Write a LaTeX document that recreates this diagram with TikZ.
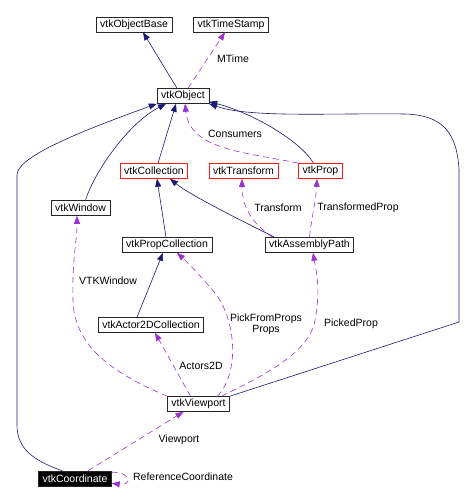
\documentclass[tikz,border=0pt]{standalone}
\usepackage{fontspec}
\setmainfont{Liberation Sans}
\usetikzlibrary{arrows.meta}
\definecolor{navyline}{RGB}{25,25,112}
\definecolor{orchidline}{RGB}{154,50,205}
\begin{document}
\begin{tikzpicture}[x=1pt,y=-1pt,
    font=\fontsize{10.5}{12}\selectfont,
    cls/.style={draw=black!85,fill=white,line width=0.6pt,inner xsep=4pt,inner ysep=0pt,minimum height=15pt},
    trunc/.style={cls,draw=red!90},
    inherit/.style={draw=navyline,line width=0.6pt,-{Triangle[length=8pt,width=6pt]}},
    uses/.style={draw=orchidline,line width=0.6pt,dash pattern=on 6pt off 4pt,-{Triangle[length=8pt,width=6pt]}},
    lbl/.style={inner sep=1pt}]
    \useasboundingbox (0,0) rectangle (474,500);
    % Classes
    \node[cls] (obase) at (134,24.5) {vtkObjectBase};
    \node[cls] (tstamp) at (231,24.5) {vtkTimeStamp};
    \node[cls] (object) at (183,96) {vtkObject};
    \node[trunc] (collection) at (154,171) {vtkCollection};
    \node[trunc] (transform) at (243.5,171) {vtkTransform};
    \node[trunc] (prop) at (320.5,171) {vtkProp};
    \node[cls] (window) at (80.5,208) {vtkWindow};
    \node[cls] (propcoll) at (167,245) {vtkPropCollection};
    \node[cls] (asmpath) at (309.5,245) {vtkAssemblyPath};
    \node[cls] (a2dcoll) at (151,325) {vtkActor2DCollection};
    \node[cls] (viewport) at (198.5,404) {vtkViewport};
    \node[cls,fill=black,text=white] (coord) at (75,478.5) {vtkCoordinate};
    % Labels
    \node[lbl] (mtime) at (233,59) {MTime};
    \node[lbl] (consumers) at (235,134) {Consumers};
    \node[lbl] (transformlbl) at (278,208) {Transform};
    \node[lbl] (transfprop) at (358,208) {TransformedProp};
    \node[lbl] (vtkwindow) at (108,281) {VTKWindow};
    \node[lbl,align=center] (pickfrom) at (266,324.5) {PickFromProps\\[-1.5pt]Props};
    \node[lbl] (pickedprop) at (351,324) {PickedProp};
    \node[lbl] (actors) at (201,366) {Actors2D};
    \node[lbl] (viewportlbl) at (179,440) {Viewport};
    \node[lbl] (refcoord) at (183,477) {ReferenceCoordinate};
    % Inheritance
    \draw[inherit] ([xshift=-6pt]object.north) -- ([xshift=9pt]obase.south);
    \draw[inherit] ([xshift=5pt]window.north) .. controls (95,170) and (130,122) .. ([xshift=-17pt]object.south);
    \draw[inherit] ([xshift=-13pt]coord.north) .. controls (32,460) and (17,448) .. (17,425) -- (17,175)
        .. controls (17,158) and (70,135) .. (object.south west);
    \draw[inherit] ([xshift=4pt]collection.north) -- ([xshift=-7pt]object.south);
    \draw[inherit] ([xshift=-7pt]prop.north) .. controls (300,140) and (250,112) .. ([yshift=2pt]object.south east);
    \draw[inherit] (viewport.north east) -- (459,322) -- (459,170) .. controls (457,130) and (440,115) .. (405,114)
        .. controls (330,113) and (250,118) .. (object.south east);
    \draw[inherit] ([xshift=-1pt]propcoll.north) -- ([xshift=3pt]collection.south);
    \draw[inherit] ([xshift=-35pt]asmpath.north) .. controls (240,220) and (190,195) .. ([xshift=16pt]collection.south);
    \draw[inherit] ([xshift=-14pt]a2dcoll.north) -- ([xshift=-4pt]propcoll.south);
    % Usage
    \draw[uses] ([xshift=5pt]object.north) -- ([xshift=-6pt]tstamp.south);
    \draw[uses] (prop.north west) .. controls (245,152) and (190,150) .. ([xshift=2pt]object.south);
    \draw[uses] ([xshift=-37pt]asmpath.north) .. controls (255,225) and (242,210) .. ([xshift=-1.5pt]transform.south);
    \draw[uses] ([xshift=0pt]asmpath.north) .. controls (312,215) and (316,200) .. ([xshift=-3.5pt]prop.south);
    \draw[uses] (viewport.north west) .. controls (110,372) and (74,345) .. (73,300)
        .. controls (72,260) and (77,240) .. ([xshift=-3.5pt]window.south);
    \draw[uses] ([xshift=-8pt]viewport.north) -- ([xshift=4pt]a2dcoll.south);
    \draw[uses] ([xshift=19pt]viewport.north) .. controls (240,372) and (236,320) .. (215,293)
        .. controls (200,275) and (187,262) .. ([xshift=10pt]propcoll.south);
    \draw[uses] ([xshift=23pt]viewport.north) .. controls (265,375) and (310,352) .. (315,320)
        .. controls (321,290) and (316,270) .. ([xshift=3.5pt]asmpath.south);
    \draw[uses] ([xshift=13pt]coord.north) -- ([xshift=-15pt]viewport.south);
    \draw[uses] ([yshift=-1.5pt]coord.north east) .. controls (132,472) and (132,486) .. ([yshift=3pt]coord.south east);
\end{tikzpicture}
\end{document}
